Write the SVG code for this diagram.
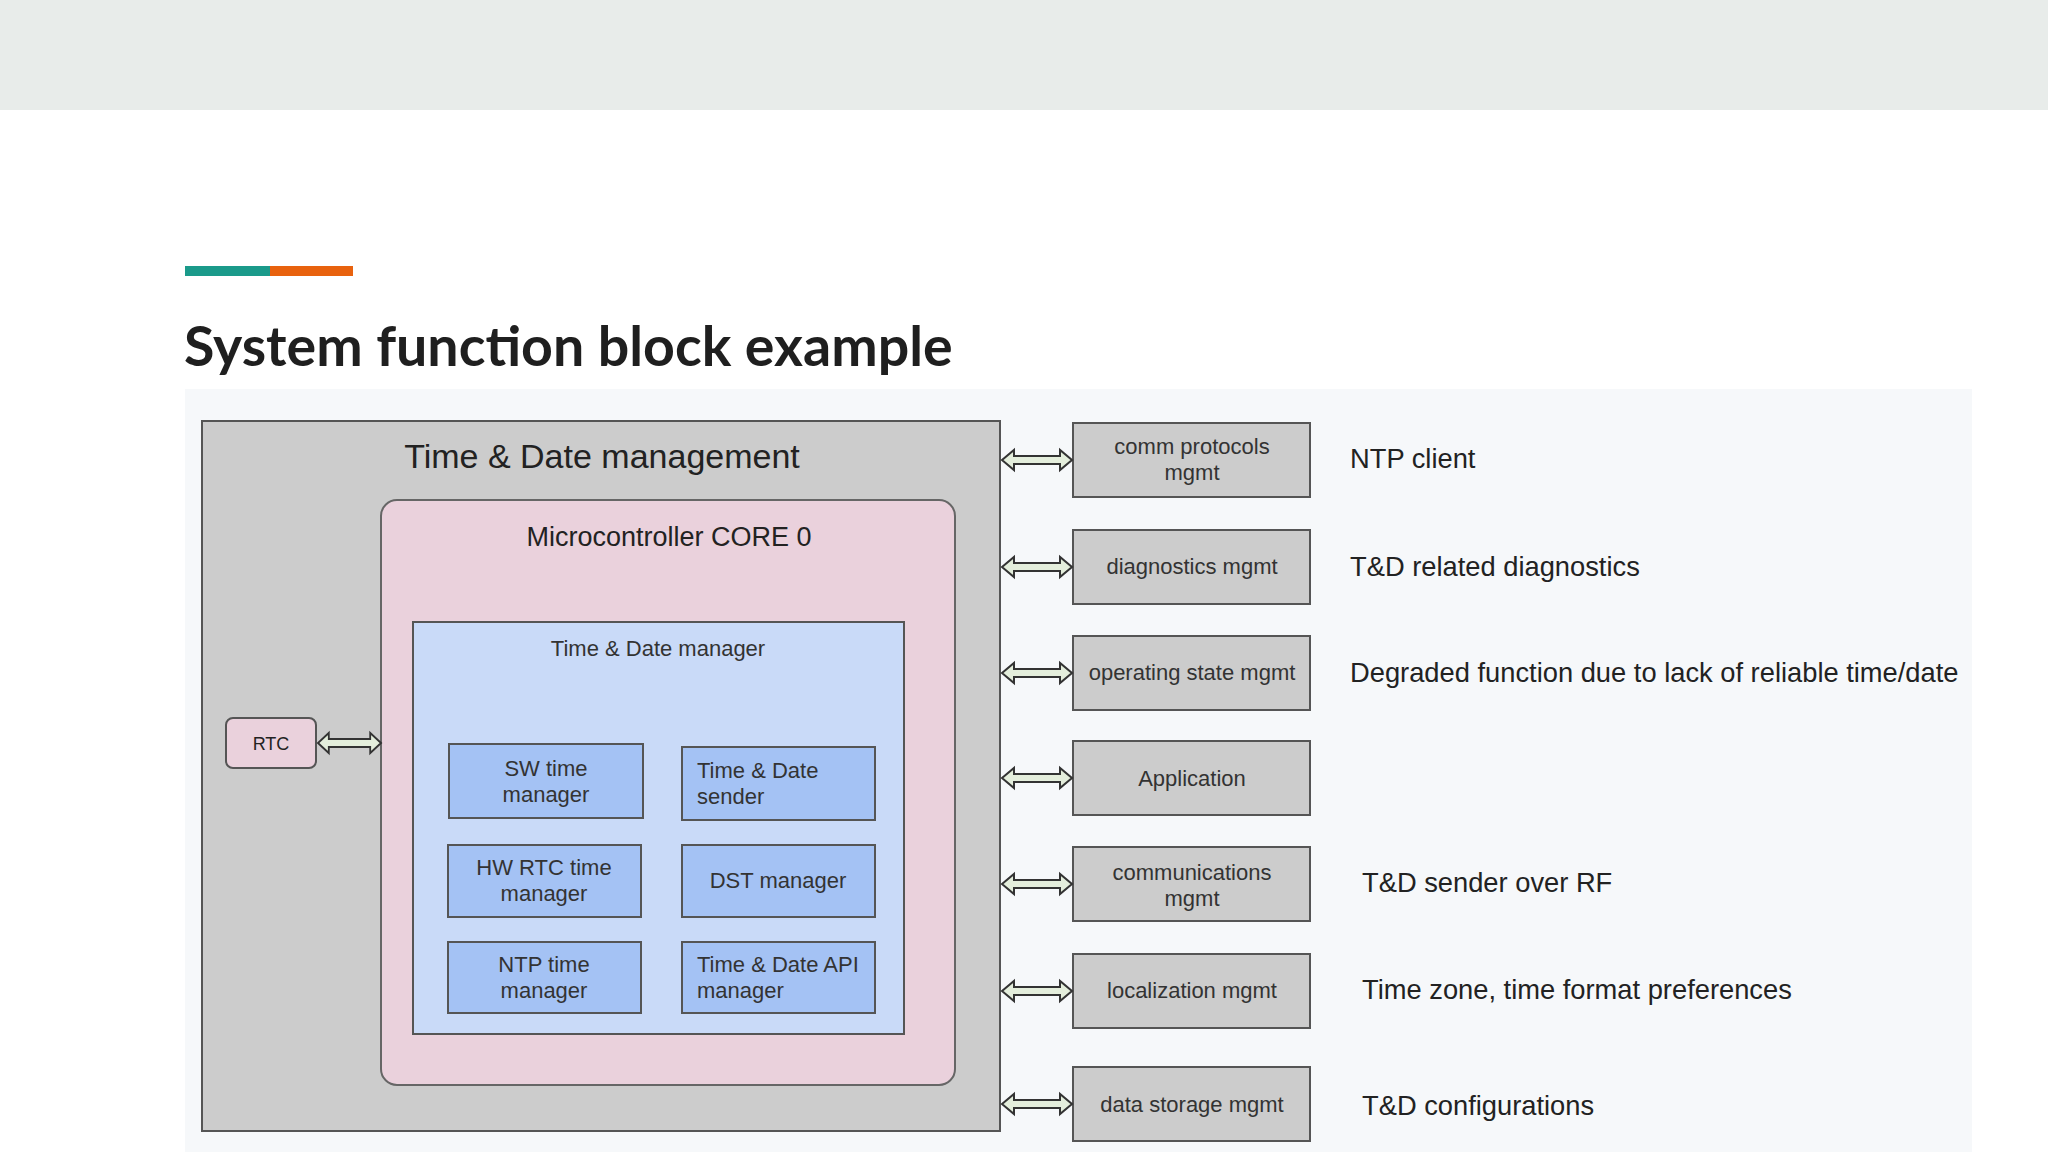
<svg xmlns="http://www.w3.org/2000/svg" xmlns:xlink="http://www.w3.org/1999/xlink" width="2048" height="1152" viewBox="0 0 2048 1152">
<style>
.t{font-family:"Liberation Sans",Arial,sans-serif;fill:#222;text-anchor:middle}
.s{font-size:22px;fill:#333}
.l{font-family:"Liberation Sans",Arial,sans-serif;font-size:27.3px;fill:#222}
.ib{fill:#a4c2f4;stroke:#555;stroke-width:2}
.rb{fill:#cccccc;stroke:#555;stroke-width:2}
</style>
<defs>
<polygon id="arr" points="0,0 12,-10 12,-4 58,-4 58,-10 70,0 58,10 58,4 12,4 12,10" fill="#e4eedc" stroke="#333" stroke-width="2"/>
</defs>
<rect width="2048" height="1152" fill="#fff"/>
<rect width="2048" height="110" fill="#e8ecea"/>
<rect x="185" y="266" width="85" height="10" fill="#1a9a8a"/>
<rect x="270" y="266" width="83" height="10" fill="#e8620e"/>
<text x="184" y="366" font-family="Lato,'Noto Sans',sans-serif" font-weight="bold" font-size="55.5" fill="#1f1f1f">System function block example</text>
<rect x="185" y="389" width="1787" height="763" fill="#f6f8fa"/>
<g id="outer"><rect x="202" y="421" width="798" height="710" fill="#cccccc" stroke="#555" stroke-width="2"/>
<text class="t" x="602" y="468" font-size="34">Time &amp; Date management</text></g>
<g id="core"><rect x="381" y="500" width="574" height="585" rx="16" fill="#ead1dc" stroke="#666" stroke-width="2"/>
<text class="t" x="669" y="546" font-size="27">Microcontroller CORE 0</text></g>
<g id="mgr"><rect x="413" y="622" width="491" height="412" fill="#c9daf8" stroke="#555" stroke-width="2"/>
<text class="t s" x="658" y="656">Time &amp; Date manager</text></g>
<g id="sw"><rect class="ib" x="449" y="744" width="194" height="74"/><text class="t s" x="546" y="776">SW time</text><text class="t s" x="546" y="802">manager</text></g>
<g id="sender"><rect class="ib" x="682" y="747" width="193" height="73"/><text class="t s" x="697" y="778" style="text-anchor:start">Time &amp; Date</text><text class="t s" x="697" y="804" style="text-anchor:start">sender</text></g>
<g id="hwrtc"><rect class="ib" x="448" y="845" width="193" height="72"/><text class="t s" x="544" y="875">HW RTC time</text><text class="t s" x="544" y="901">manager</text></g>
<g id="dst"><rect class="ib" x="682" y="845" width="193" height="72"/><text class="t s" x="778" y="888">DST manager</text></g>
<g id="ntp"><rect class="ib" x="448" y="942" width="193" height="71"/><text class="t s" x="544" y="972">NTP time</text><text class="t s" x="544" y="998">manager</text></g>
<g id="api"><rect class="ib" x="682" y="942" width="193" height="71"/><text class="t s" x="697" y="972" style="text-anchor:start">Time &amp; Date API</text><text class="t s" x="697" y="998" style="text-anchor:start">manager</text></g>
<g id="rtc"><rect x="226" y="718" width="90" height="50" rx="7" fill="#ead1dc" stroke="#555" stroke-width="2"/><text class="t" x="271" y="750" font-size="18" fill="#333">RTC</text></g>
<g id="right">
<rect class="rb" x="1073" y="423" width="237" height="74"/><text class="t s" x="1192" y="454">comm protocols</text><text class="t s" x="1192" y="480">mgmt</text>
<rect class="rb" x="1073" y="530" width="237" height="74"/><text class="t s" x="1192" y="574">diagnostics mgmt</text>
<rect class="rb" x="1073" y="636" width="237" height="74"/><text class="t s" x="1192" y="680">operating state mgmt</text>
<rect class="rb" x="1073" y="741" width="237" height="74"/><text class="t s" x="1192" y="786">Application</text>
<rect class="rb" x="1073" y="847" width="237" height="74"/><text class="t s" x="1192" y="880">communications</text><text class="t s" x="1192" y="906">mgmt</text>
<rect class="rb" x="1073" y="954" width="237" height="74"/><text class="t s" x="1192" y="998">localization mgmt</text>
<rect class="rb" x="1073" y="1067" width="237" height="74"/><text class="t s" x="1192" y="1112">data storage mgmt</text>
</g>
<g id="labels">
<text class="l" x="1350" y="468">NTP client</text>
<text class="l" x="1350" y="576">T&amp;D related diagnostics</text>
<text class="l" x="1350" y="682">Degraded function due to lack of reliable time/date</text>
<text class="l" x="1362" y="892">T&amp;D sender over RF</text>
<text class="l" x="1362" y="999">Time zone, time format preferences</text>
<text class="l" x="1362" y="1115">T&amp;D configurations</text>
</g>
<g id="connectors">
<use xlink:href="#arr" transform="translate(1002,460)"/>
<use xlink:href="#arr" transform="translate(1002,567)"/>
<use xlink:href="#arr" transform="translate(1002,673)"/>
<use xlink:href="#arr" transform="translate(1002,778)"/>
<use xlink:href="#arr" transform="translate(1002,884)"/>
<use xlink:href="#arr" transform="translate(1002,991)"/>
<use xlink:href="#arr" transform="translate(1002,1104)"/>
<use xlink:href="#arr" transform="translate(318,743) scale(0.9,1)"/>
</g>
</svg>
